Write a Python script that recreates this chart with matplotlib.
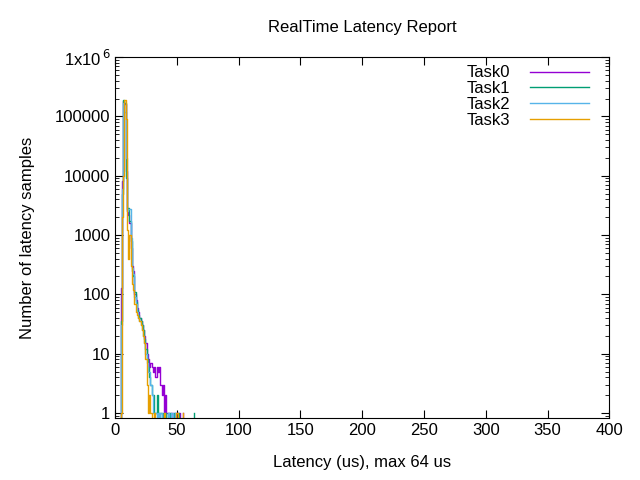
import numpy as np
import matplotlib
matplotlib.use("Agg")
import matplotlib.pyplot as plt
from matplotlib.ticker import FixedLocator, LogLocator, NullFormatter

plt.rcParams['font.family'] = ['Liberation Sans', 'DejaVu Sans']

# histogram counts per latency bin (us), starting at 0 us
task0 = [0, 0, 0, 0, 0, 130, 8000, 180000, 160000, 12000, 2500, 2200, 1600, 600, 300,
         250, 100, 80, 60, 50, 40, 35, 30, 25, 20, 15, 10, 8, 6, 7, 6, 5, 6, 4, 6,
         5, 6, 3, 2, 3, 1, 2, 1, 1, 1, 0, 1, 0, 1, 0, 1, 0, 1, 0, 0, 1]
task1 = [0, 0, 0, 0, 0, 35, 5000, 190000, 170000, 9000, 2800, 2900, 1700, 800, 250,
         200, 110, 75, 55, 45, 40, 35, 30, 25, 18, 12, 8, 6, 4, 3, 2, 2, 1, 1, 2,
         1, 1, 1, 0, 1, 0, 1, 0, 1, 0, 1, 0, 0, 1, 0, 0, 1, 0, 0, 0, 0, 0, 0, 0,
         0, 0, 0, 0, 0, 1]
task2 = [0, 0, 0, 0, 0, 30, 6000, 170000, 120000, 20000, 2500, 2800, 2700, 900, 280,
         220, 90, 70, 50, 40, 35, 30, 25, 20, 15, 10, 7, 5, 5, 3, 2, 1, 1, 1, 0,
         1, 0, 1, 0, 0, 1, 0, 0, 1, 0, 0, 1, 0, 0, 1]
task3 = [0, 0, 0, 0, 0, 1, 2000, 10000, 190000, 90000, 1200, 400, 1000, 300, 150,
         120, 70, 50, 45, 40, 35, 30, 25, 20, 15, 8, 3, 1, 2, 1, 0, 0, 1, 0, 0,
         0, 0, 0, 0, 0, 1, 0, 0, 0, 0, 0, 0, 0, 0, 0, 1, 0, 0, 0, 0, 1]
names = ['Task0', 'Task1', 'Task2', 'Task3']
colors = ['#9400d3', '#009e73', '#56b4e9', '#e69f00']

fig = plt.figure(figsize=(6.4, 4.8), dpi=100)
ax = fig.add_axes([0.18, 0.129, 0.772, 0.752])

for data, name, c in zip([task0, task1, task2, task3], names, colors):
    y = np.array(data, dtype=float)
    y[y <= 0] = 0.1
    x = np.arange(len(y))
    ax.step(x, y, where='mid', color=c, lw=1, label=name)

ax.set_yscale('log')
ax.set_xlim(0, 400)
ax.set_ylim(0.82, 1e6)
ax.set_xticks(range(0, 401, 50))
ax.yaxis.set_major_locator(FixedLocator([1, 10, 100, 1000, 10000, 100000, 1e6]))
ax.set_yticklabels(['1', '10', '100', '1000', '10000', '100000', r'1x10$^{\,6}$'])
ax.yaxis.set_minor_locator(LogLocator(subs=np.arange(2, 10)))
ax.yaxis.set_minor_formatter(NullFormatter())
ax.tick_params(which='both', direction='in', top=True, right=True, labelsize=12)
ax.tick_params(which='major', length=6)
ax.tick_params(which='minor', length=3)

ax.set_title('RealTime Latency Report', fontsize=12, pad=18)
ax.set_xlabel('Latency (us), max 64 us', fontsize=12, labelpad=12)
ax.set_ylabel('Number of latency samples', fontsize=12, labelpad=14)
ax.legend(loc='upper right', frameon=False, markerfirst=False, fontsize=12,
          handlelength=3.5, handletextpad=1.2, labelspacing=0.05,
          borderaxespad=0.1, bbox_to_anchor=(0.975, 1.0))

fig.savefig('out.png')
